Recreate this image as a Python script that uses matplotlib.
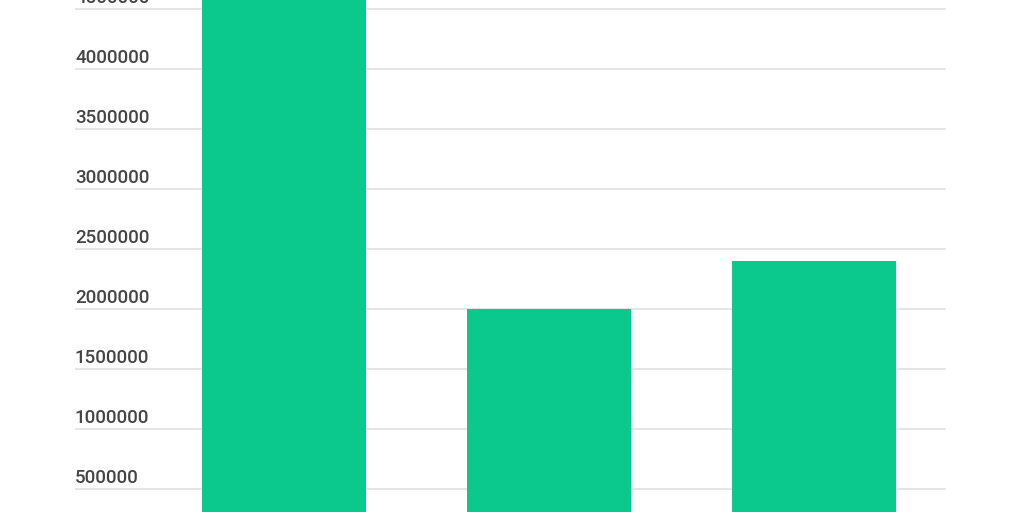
import matplotlib
matplotlib.use("Agg")
import matplotlib.pyplot as plt
import matplotlib.transforms as mtransforms

categories = ["A", "B", "C"]
values = [4800000, 2000000, 2400000]
tick_values = [500000, 1000000, 1500000, 2000000, 2500000, 3000000, 3500000, 4000000, 4500000]
tick_labels = [str(v) for v in tick_values]

W, H = 1024, 512
fig = plt.figure(figsize=(W / 100, H / 100), dpi=100)
fig.patch.set_facecolor("white")

# axes in pixel coordinates (from top-left)
x0, x1 = 75, 946
y_zero = 549.3
ymax = 4700000
px_per_unit = 60 / 500000
y_top = y_zero - ymax * px_per_unit
ax = fig.add_axes([x0 / W, (H - y_zero) / H, (x1 - x0) / W, (y_zero - y_top) / H])
ax.set_xlim(-0.79, 2.5)
ax.set_ylim(0, ymax)

for s in ax.spines.values():
    s.set_visible(False)
ax.set_xticks([])
ax.set_yticks([])

for v in tick_values:
    ax.axhline(v, color="#e0e0e0", linewidth=1.2, zorder=1)

ax.bar(range(len(categories)), values, width=0.62, color="#0bc98c", zorder=2)

trans = mtransforms.blended_transform_factory(ax.transAxes, ax.transData)
trans = mtransforms.offset_copy(trans, fig=fig, x=0, y=6, units="dots")
for v, lab in zip(tick_values, tick_labels):
    ax.text(0, v, lab, transform=trans, ha="left", va="baseline",
            fontsize=13.5, color="#444444", family="Roboto", fontweight="medium", zorder=3)

fig.savefig("out.png", dpi=100, facecolor="white")
